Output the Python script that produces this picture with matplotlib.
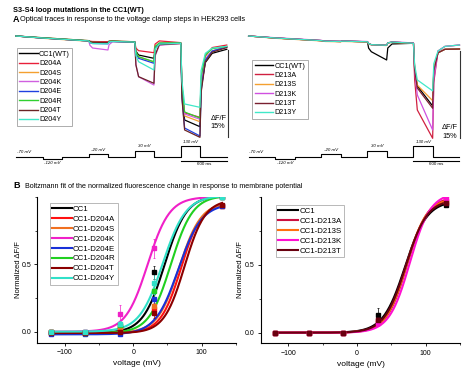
import numpy as np
import matplotlib
matplotlib.use("Agg")
import matplotlib.pyplot as plt
from matplotlib.ticker import MultipleLocator

plt.rcParams['font.family'] = ['Liberation Sans', 'DejaVu Sans']

# ---------------- data ----------------
# Panel A: optical traces (dF/F in %), vertices at shared time points (ms)
t_ms = [0, 350, 950, 965, 1000, 1200, 1215, 1260, 1550, 1565, 1600, 1800,
        1815, 1870, 2150, 2165, 2200, 2400, 2415, 2470, 2560, 2750]

left_labels = ['CC1(WT)', 'D204A', 'D204S', 'D204K', 'D204E', 'D204R', 'D204T', 'D204Y']
left_colors = ['#000000', '#e8203a', '#f4a030', '#d060e0', '#2040e0', '#30d030', '#6a2424', '#40e8c8']
L_CC1 = [0, -0.35, -0.85, -0.95, -1.0, -1.05, -0.95, -0.92, -1.05, -2.6, -3.29, -3.86, -2.2, -1.3, -1.25, -9.5, -14.53, -15.69, -9.0, -4.6, -3.0, -2.3]
L_D204A = [0, -0.3, -0.8, -0.9, -0.95, -1.0, -0.9, -0.85, -1.0, -2.1, -2.54, -2.89, -1.4, -0.85, -1.15, -8.5, -13.3, -14.07, -7.5, -3.5, -2.0, -1.56]
L_D204S = [0, -0.4, -0.9, -1.1, -1.2, -1.25, -1.0, -0.95, -1.1, -2.9, -3.63, -4.5, -1.9, -1.3, -1.3, -8.8, -13.84, -14.83, -8.0, -4.0, -2.6, -1.9]
L_D204K = [0, -0.35, -0.85, -1.6, -2.08, -2.42, -1.5, -1.0, -1.05, -5.0, -7.04, -8.48, -3.5, -1.6, -1.3, -8.6, -13.5, -14.4, -8.0, -4.0, -2.6, -1.9]
L_D204E = [0, -0.35, -0.85, -1.15, -1.3, -1.35, -1.0, -0.95, -1.05, -3.0, -3.86, -4.72, -2.0, -1.3, -1.25, -10.5, -15.92, -17.3, -9.5, -4.2, -2.6, -1.9]
L_D204R = [0, -0.3, -0.8, -1.0, -1.1, -1.15, -0.9, -0.88, -1.0, -2.8, -3.58, -4.45, -1.8, -1.2, -1.2, -8.5, -13.15, -14.19, -7.0, -3.3, -2.2, -1.8]
L_D204T = [0, -0.35, -0.85, -1.0, -1.1, -1.15, -0.95, -0.92, -1.05, -5.0, -7.04, -8.18, -3.3, -1.5, -1.3, -10.8, -16.26, -17.53, -9.8, -4.5, -2.8, -2.0]
L_D204Y = [0, -0.35, -0.85, -1.15, -1.3, -1.35, -1.0, -0.95, -1.05, -3.4, -4.45, -5.88, -2.3, -1.4, -1.25, -7.8, -11.76, -12.34, -6.0, -3.0, -2.1, -1.8]
left_traces = [L_CC1, L_D204A, L_D204S, L_D204K, L_D204E, L_D204R, L_D204T, L_D204Y]

right_labels = ['CC1(WT)', 'D213A', 'D213S', 'D213K', 'D213T', 'D213Y']
right_colors = ['#000000', '#d02040', '#f4a030', '#d050e0', '#7a2030', '#40e8c8']
R_CC1 = [0, -0.35, -0.8, -0.85, -0.9, -0.95, -0.9, -0.9, -1.0, -2.1, -2.72, -4.15, -2.08, -1.38, -1.26, -5.5, -8.65, -12.1, -6.0, -2.9, -2.3, -2.25]
R_D213A = [0, -0.35, -0.8, -0.85, -0.9, -0.95, -0.9, -0.9, -1.0, -1.3, -1.5, -1.6, -1.2, -1.05, -1.26, -7.5, -12.8, -17.7, -8.0, -2.6, -1.8, -1.56]
R_D213S = [0, -0.4, -0.85, -0.9, -0.95, -1.0, -0.95, -0.95, -1.05, -1.35, -1.55, -1.65, -1.25, -1.1, -1.3, -5.5, -8.5, -11.19, -5.5, -2.9, -2.3, -2.25]
R_D213K = [0, -0.3, -0.75, -0.8, -0.85, -0.9, -0.85, -0.85, -0.95, -1.3, -1.5, -1.6, -1.2, -1.0, -1.2, -6.0, -10.2, -16.26, -7.5, -2.6, -1.8, -1.56]
R_D213T = [0, -0.35, -0.8, -0.85, -0.9, -0.95, -0.9, -0.9, -1.0, -1.3, -1.5, -1.6, -1.2, -1.05, -1.26, -5.8, -9.0, -12.5, -6.0, -2.9, -2.3, -2.25]
R_D213Y = [0, -0.35, -0.8, -0.85, -0.9, -0.95, -0.9, -0.9, -1.0, -1.3, -1.5, -1.6, -1.2, -1.05, -1.26, -5.0, -7.6, -9.5, -4.8, -2.6, -1.8, -1.56]
right_traces = [R_CC1, R_D213A, R_D213S, R_D213K, R_D213T, R_D213Y]

# voltage clamp protocol
prot_t = [0, 350, 600, 950, 1200, 1550, 1800, 2150, 2400, 2750]
prot_mv = [-70, -120, -70, -20, -70, 30, -70, 130, -70, -70]
step_labels = ['-70 mV', '-120 mV', '-20 mV', '30 mV', '130 mV']

# Panel B: normalized dF/F, measured points and Boltzmann fit parameters
volt = [-120, -70, -20, 30, 130]
bl_labels = ['CC1', 'CC1-D204A', 'CC1-D204S', 'CC1-D204K', 'CC1-D204E', 'CC1-D204R', 'CC1-D204T', 'CC1-D204Y']
bl_colors = ['#000000', '#ff1010', '#f07020', '#f020c8', '#1830d8', '#20d020', '#8b0000', '#30e0c8']
bl_y = [[0.0, 0.0, 0.04, 0.44, 1.0],
        [0.0, -0.01, 0.02, 0.17, 0.93],
        [0.0, -0.01, 0.02, 0.19, 0.93],
        [0.0, 0.0, 0.13, 0.62, 1.0],
        [-0.02, -0.02, -0.02, 0.24, 0.93],
        [0.0, -0.01, 0.05, 0.30, 1.0],
        [-0.01, -0.01, 0.0, 0.14, 0.94],
        [0.0, 0.0, 0.06, 0.36, 1.0]]
bl_err = [[0.0, 0.0, 0.02, 0.05, 0.0],
          [0.0, 0.0, 0.01, 0.04, 0.0],
          [0.0, 0.0, 0.01, 0.04, 0.0],
          [0.0, 0.0, 0.07, 0.07, 0.0],
          [0.0, 0.0, 0.01, 0.04, 0.01],
          [0.0, 0.0, 0.02, 0.05, 0.0],
          [0.0, 0.0, 0.01, 0.04, 0.01],
          [0.0, 0.0, 0.02, 0.08, 0.0]]
bl_A1 = [-0.01, -0.01, -0.01, 0.0, -0.02, -0.01, -0.01, 0.0]
bl_A2 = [1.01, 0.96, 0.96, 1.0, 0.95, 1.01, 0.98, 1.01]
bl_V0 = [46, 70, 67, 21, 66, 55, 75, 43]
bl_dV = [16, 15, 16, 16, 17, 16, 15, 17]

br_labels = ['CC1', 'CC1-D213A', 'CC1-D213S', 'CC1-D213K', 'CC1-D213T']
br_colors = ['#000000', '#cc1040', '#ff7010', '#ff10d0', '#6a0010']
br_y = [[0.0, 0.0, 0.0, 0.13, 0.94],
        [0.0, 0.0, 0.0, 0.09, 0.97],
        [0.0, 0.0, 0.0, 0.08, 0.96],
        [0.0, 0.0, 0.0, 0.07, 0.99],
        [0.0, 0.0, 0.0, 0.09, 0.95]]
br_err = [[0.0, 0.0, 0.0, 0.05, 0.0],
          [0.0, 0.0, 0.0, 0.02, 0.0],
          [0.0, 0.0, 0.0, 0.02, 0.0],
          [0.0, 0.0, 0.0, 0.02, 0.0],
          [0.0, 0.0, 0.0, 0.02, 0.0]]
br_A1 = [0.0, 0.0, 0.0, 0.0, 0.0]
br_A2 = [0.97, 1.0, 0.99, 1.03, 0.98]
br_V0 = [70, 73, 72, 77, 71]
br_dV = [16, 15, 15, 15, 15.5]

# ---------------- figure ----------------
W, H = 474, 376
fig = plt.figure(figsize=(W / 100, H / 100), dpi=100)


def px_axes(x0, y0, x1, y1):
    return fig.add_axes([x0 / W, 1 - y1 / H, (x1 - x0) / W, (y1 - y0) / H])


def ftext(x, y, s, **kw):
    fig.text(x / W, 1 - y / H, s, **kw)


ftext(13, 10, 'S3-S4 loop mutations in the CC1(WT)', fontsize=5.3, fontweight='bold', va='center')
ftext(13, 19, 'A', fontsize=6.5, fontweight='bold', va='center')
ftext(20.5, 19.5, 'Optical traces in response to the voltage clamp steps in HEK293 cells', fontsize=5.3, va='center')
ftext(13, 185.7, 'B', fontsize=6.5, fontweight='bold', va='center')
ftext(25, 186, 'Boltzmann fit of the normalized fluorescence change in response to membrane potential',
      fontsize=5.15, va='center')


def trace_panel(x0, t0px, traces, labels, colors, leg_box, bar_t, bar_y, txt_t, txt_y):
    msp = 13.04
    ax = px_axes(x0, 30, x0 + 218, 142)
    ax.set_xlim((x0 - t0px) * msp, (x0 + 218 - t0px) * msp)
    ax.set_ylim(-18.34, 1.038)
    ax.axis('off')
    for tr, lab, c in zip(traces, labels, colors):
        ax.plot(t_ms, tr, color=c, lw=0.9, label=lab)
    ax.plot([bar_t, bar_t], bar_y, color='#333333', lw=0.8)
    ax.text(txt_t, txt_y[0], 'ΔF/F', fontsize=5.3, va='center', ha='left')
    ax.text(txt_t, txt_y[1], '15%', fontsize=5.3, va='center', ha='left')
    leg = ax.legend(loc='upper left', bbox_to_anchor=(leg_box[0] / W, 1 - leg_box[1] / H),
                    bbox_transform=fig.transFigure, fontsize=5.2, frameon=True, fancybox=False,
                    handlelength=2.6, handletextpad=0.15, labelspacing=0.32, borderpad=0.35,
                    borderaxespad=0)
    leg.get_frame().set_edgecolor('#888888')
    leg.get_frame().set_linewidth(0.6)
    for ln in leg.get_lines():
        ln.set_linewidth(1.0)

    # protocol
    pa = px_axes(x0, 140, x0 + 218, 168)
    pa.set_xlim((x0 - t0px) * msp, (x0 + 218 - t0px) * msp)
    pa.set_ylim(-281, 242)
    pa.axis('off')
    pa.plot(prot_t, prot_mv, drawstyle='steps-post', color='black', lw=0.8)
    pa.plot([2150, 2750], [-145, -145], color='black', lw=0.8)
    pa.text(2450, -215, '600 ms', fontsize=3.2, ha='center', va='center')
    mids = [100, 475, 1075, 1675, 2275]
    ys = [10, -188, 55, 124, 208]
    for lab, m, yv in zip(step_labels, mids, ys):
        pa.text(m, yv, lab, fontsize=3.2, ha='center', va='center', style='italic')
    return ax


trace_panel(14, 15.9, left_traces, left_labels, left_colors, (16.7, 48.3),
            2762, [-2.45, -17.45], 2538, [-14.19, -15.74])
trace_panel(247, 248.6, right_traces, right_labels, right_colors, (252, 60),
            2753, [-2.6, -17.6], 2522, [-15.87, -17.42])


def boltz_panel(x0, x1, y0, y1, xlim, ylim, labels, colors, ys, errs, A1, A2, V0, dV, leg_xy, ylab_x):
    ax = px_axes(x0, y0, x1, y1)
    vv = np.linspace(-120, 130, 300)
    for i in range(len(labels)):
        fit = A2[i] + (A1[i] - A2[i]) / (1 + np.exp((vv - V0[i]) / dV[i]))
        ax.plot(vv, fit, color=colors[i], lw=1.5, label=labels[i], zorder=2)
        ax.errorbar(volt, ys[i], yerr=errs[i], fmt='s', ms=2.3, color=colors[i],
                    elinewidth=0.5, capsize=0.8, capthick=0.5, zorder=3)
    ax.set_xlim(*xlim)
    ax.set_ylim(*ylim)
    for s in ['top', 'right']:
        ax.spines[s].set_visible(False)
    for s in ['left', 'bottom']:
        ax.spines[s].set_linewidth(0.8)
    ax.set_xticks([-100, 0, 100])
    ax.xaxis.set_minor_locator(MultipleLocator(50))
    ax.set_yticks([0.0, 0.5])
    ax.set_yticklabels(['0.0', '0.5'])
    ax.yaxis.set_minor_locator(MultipleLocator(0.25))
    ax.tick_params(which='major', direction='out', length=2.5, width=0.6, labelsize=5, pad=2)
    ax.tick_params(which='minor', direction='out', length=1.5, width=0.5)
    ax.set_xlabel('voltage (mV)', fontsize=6, labelpad=3)
    ax.set_ylabel('Normalized ΔF/F', fontsize=5.5)
    ax.yaxis.set_label_coords((ylab_x - x0) / (x1 - x0), 0.5)
    leg = ax.legend(loc='upper left', bbox_to_anchor=(leg_xy[0] / W, 1 - leg_xy[1] / H),
                    bbox_transform=fig.transFigure, fontsize=5.7, frameon=True, fancybox=False,
                    handlelength=2.5, handletextpad=0.15, labelspacing=0.3, borderpad=0.3,
                    borderaxespad=0)
    leg.get_frame().set_edgecolor('#999999')
    leg.get_frame().set_linewidth(0.6)
    return ax


boltz_panel(37.3, 235.8, 196.9, 343, (-140.5, 150), (-0.084, 1.0), bl_labels, bl_colors,
            bl_y, bl_err, bl_A1, bl_A2, bl_V0, bl_dV, (49.7, 203), 22)
boltz_panel(261, 460, 196.7, 343.3, (-139.7, 150), (-0.078, 1.0), br_labels, br_colors,
            br_y, br_err, br_A1, br_A2, br_V0, br_dV, (276, 205), 244)

fig.savefig('out.png', dpi=100)
